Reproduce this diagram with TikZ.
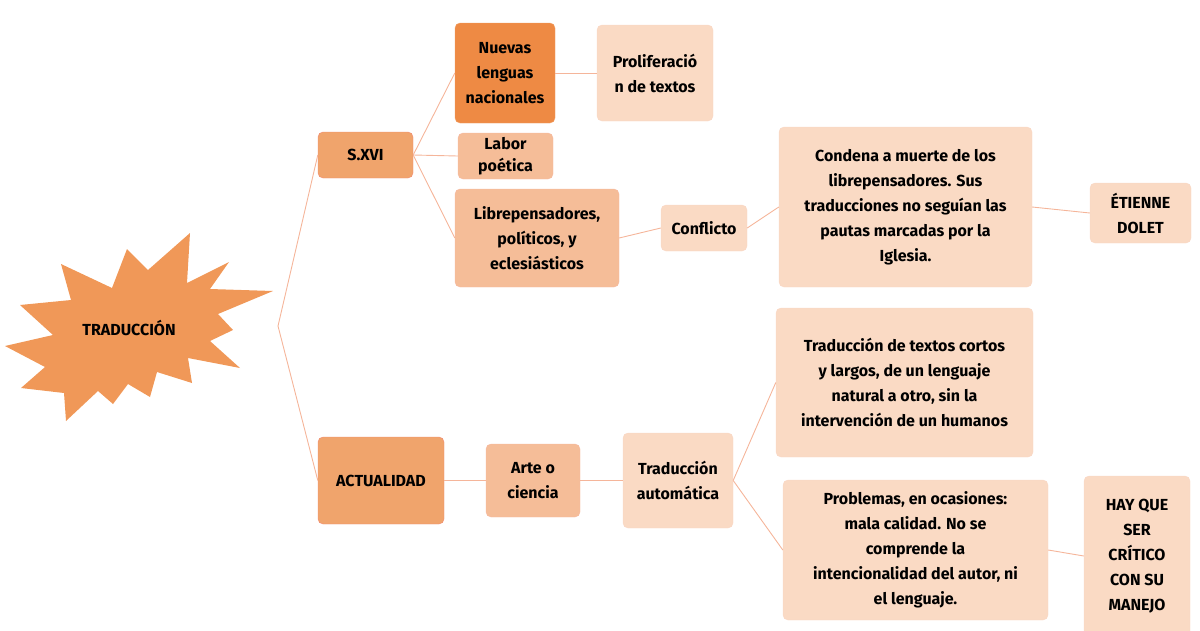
\documentclass[tikz,border=0pt]{standalone}
\usepackage{fontspec}
\setmainfont{Fira Sans}
\begin{document}
\begin{tikzpicture}[x=1pt,y=-1pt,
  box/.style={rounded corners=5pt,draw=#1!80!white,align=center,inner sep=2pt,font=\fontsize{16}{25}\selectfont\bfseries},
  mid/.style={box=mbo,fill=mfill},
  dark/.style={box=dbo,fill=dfill},
  lite/.style={box=lbo,fill=lfill},
  conn/.style={draw=lineC,line width=0.9pt}]
\definecolor{mfill}{HTML}{F0A46C}\definecolor{mbo}{HTML}{EE6A4E}
\definecolor{dfill}{HTML}{EE8A44}\definecolor{dbo}{HTML}{EE8A44}
\definecolor{sfill}{HTML}{F5BD98}\definecolor{sbo}{HTML}{F3A888}
\definecolor{lfill}{HTML}{FADAC4}\definecolor{lbo}{HTML}{F7CDB6}
\definecolor{lineC}{HTML}{F5B59A}\definecolor{starC}{HTML}{F09858}
\useasboundingbox (0,0) rectangle (1200,630);
\fill[starC] (61,264)--(112,288)--(127,249)--(148,270)--(190,233)--(187,283)--(229,262)--(210,289)--(273,291)--(218,314)--(233,330)--(210,341)--(240,368)--(188,358)--(192,383)--(157,372)--(150,397)--(128,384)--(113,404)--(98,391)--(66,421)--(64,393)--(21,388)--(45,367)--(5,346)--(53,335)--(20,305)--(71,300)--cycle;
\node[font=\fontsize{16}{20}\selectfont\bfseries] (trad) at (129,328) {TRADUCCIÓN};
\coordinate (hub) at (278,326);
\node[mid,minimum width=95pt,minimum height=46pt] (sxvi) at (365.5,155) {S.XVI};
\node[mid,minimum width=126pt,minimum height=87pt] (act) at (381,480.5) {ACTUALIDAD};
\node[dark,minimum width=100pt,minimum height=100pt] (nue) at (505,73) {Nuevas\\lenguas\\nacionales};
\node[lite,minimum width=116pt,minimum height=96pt] (pro) at (655,73) {Proliferació\\n de textos};
\node[box=sbo,fill=sfill,minimum width=95pt,minimum height=46pt,font=\fontsize{16}{22}\selectfont\bfseries] (lab) at (505.5,156) {Labor\\poética};
\node[box=sbo,fill=sfill,minimum width=164pt,minimum height=98pt] (lib) at (537,238) {Librepensadores,\\políticos, y\\eclesiásticos};
\node[lite,minimum width=86pt,minimum height=46pt] (con) at (704,228) {Conflicto};
\node[lite,minimum width=253pt,minimum height=160pt] (cond) at (905.5,207) {Condena a muerte de los\\librepensadores. Sus\\traducciones no seguían las\\pautas marcadas por la\\Iglesia.};
\node[lite,minimum width=101pt,minimum height=60pt] (et) at (1140.5,213) {ÉTIENNE\\DOLET};
\node[box=sbo,fill=sfill,minimum width=94pt,minimum height=73pt] (arte) at (533,480.5) {Arte o\\ciencia};
\node[lite,minimum width=110pt,minimum height=95pt] (ta) at (678,480.5) {Traducción\\automática};
\node[lite,minimum width=257pt,minimum height=149pt] (tt) at (904.5,382.5) {Traducción de textos cortos\\y largos, de un lenguaje\\natural a otro, sin la\\intervención de un humanos};
\node[lite,minimum width=265pt,minimum height=140pt] (prob) at (915.5,550) {Problemas, en ocasiones:\\mala calidad. No se\\comprende la\\intencionalidad del autor, ni\\el lenguaje.};
\node[lite,minimum width=106pt,minimum height=160pt] (hay) at (1137,556) {HAY QUE\\SER\\CRÍTICO\\CON SU\\MANEJO};
\draw[conn] (hub) -- (sxvi.west);
\draw[conn] (hub) -- (act.west);
\draw[conn] (sxvi.east) -- (nue.west);
\draw[conn] (sxvi.east) -- (lab.west);
\draw[conn] (sxvi.east) -- (lib.west);
\draw[conn] (nue.east) -- (pro.west);
\draw[conn] (lib.east) -- (con.west);
\draw[conn] (con.east) -- (cond.west);
\draw[conn] (cond.east) -- (et.west);
\draw[conn] (act.east) -- (arte.west);
\draw[conn] (arte.east) -- (ta.west);
\draw[conn] (ta.east) -- (tt.west);
\draw[conn] (ta.east) -- (prob.west);
\draw[conn] (prob.east) -- (hay.west);
\end{tikzpicture}
\end{document}
